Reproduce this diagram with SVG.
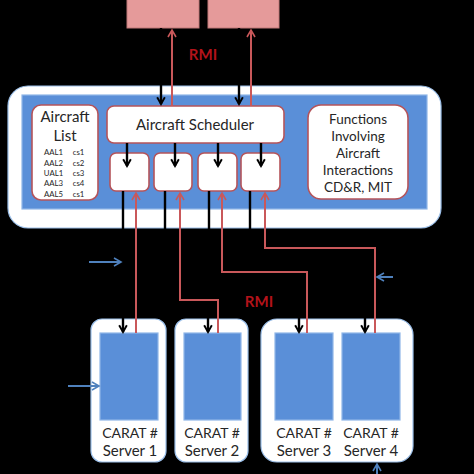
<svg xmlns="http://www.w3.org/2000/svg" width="474" height="474" viewBox="0 0 474 474">
<style>
text{font-family:Lato,"Liberation Sans",sans-serif;fill:#262626}
.pink{fill:#e59a9a;stroke:#c07878;stroke-width:1}
.box{fill:#fff;stroke:#b5545a;stroke-width:1.6}
.blue{fill:#5a8fd8;stroke:#8fb6e8;stroke-width:1.2}
.panel{fill:#fff;stroke:#9cc0ea;stroke-width:1.2}
.blk{stroke:#000;stroke-width:2.4;fill:none}
.red{stroke:#c9585a;stroke-width:2;fill:none}
.bl{stroke:#4f81bd;stroke-width:2;fill:none}
.rmi{font-weight:bold;fill:#b3131a;font-size:15px}
.t15{font-size:15px}
.cr{font-size:14px}
.t13{font-size:13.5px}
.sm{font-size:7.8px}
</style>
<defs>
<marker id="ak" viewBox="0 0 10 10" refX="8" refY="5" markerWidth="4" markerHeight="4" orient="auto" markerUnits="strokeWidth"><path d="M1,1 L8,5 L1,9" fill="none" stroke="#000" stroke-width="2"/></marker>
<marker id="ar" viewBox="0 0 10 10" refX="8" refY="5" markerWidth="5" markerHeight="5" orient="auto" markerUnits="strokeWidth"><path d="M1,1 L8,5 L1,9" fill="none" stroke="#c9585a" stroke-width="1.6"/></marker>
<marker id="ab" viewBox="0 0 10 10" refX="8" refY="5" markerWidth="5" markerHeight="5" orient="auto" markerUnits="strokeWidth"><path d="M1,1 L8,5 L1,9" fill="none" stroke="#4f81bd" stroke-width="1.6"/></marker>
</defs>
<rect width="474" height="474" fill="#000"/>

<g id="rmi-server-a"><rect class="pink" x="127" y="-2" width="72" height="30"/></g>
<g id="rmi-server-b"><rect class="pink" x="208" y="-2" width="71" height="30"/></g>

<g id="central-panel">
<rect class="panel" x="8" y="86" width="433" height="142" rx="20"/>
<rect class="blue" x="22" y="95" width="405" height="114"/>
</g>

<g id="aircraft-list">
<rect class="box" x="32" y="105" width="66" height="95" rx="9"/>
<text class="t15" x="65" y="122" text-anchor="middle">Aircraft</text>
<text class="t15" x="65" y="141" text-anchor="middle">List</text>
<g class="sm" text-anchor="middle">
<text x="53.5" y="155">AAL1</text><text x="78.5" y="155">cs1</text>
<text x="53.5" y="165.5">AAL2</text><text x="78.5" y="165.5">cs2</text>
<text x="53.5" y="176">UAL1</text><text x="78.5" y="176">cs3</text>
<text x="53.5" y="186.3">AAL3</text><text x="78.5" y="186.3">cs4</text>
<text x="53.5" y="196.5">AAL5</text><text x="78.5" y="196.5">cs1</text>
</g>
</g>

<g id="aircraft-scheduler">
<rect class="box" x="107" y="106" width="177" height="37" rx="7"/>
<text class="t15" x="195" y="130" text-anchor="middle">Aircraft Scheduler</text>
</g>

<g id="slot-1"><rect class="box" x="110" y="153" width="39" height="38" rx="6"/></g>
<g id="slot-2"><rect class="box" x="154" y="153" width="38" height="38" rx="6"/></g>
<g id="slot-3"><rect class="box" x="198" y="153" width="39" height="38" rx="6"/></g>
<g id="slot-4"><rect class="box" x="241" y="153" width="39" height="38" rx="6"/></g>

<g id="functions">
<rect class="box" x="308" y="105" width="100" height="94" rx="13"/>
<g class="t13" text-anchor="middle">
<text x="358" y="124">Functions</text>
<text x="358" y="141">Involving</text>
<text x="358" y="158">Aircraft</text>
<text x="358" y="175">Interactions</text>
<text x="358" y="192">CD&amp;R, MIT</text>
</g>
</g>

<g id="server-1">
<rect class="panel" x="91" y="319" width="75" height="143" rx="11"/>
<rect class="blue" x="100" y="333" width="58" height="87"/>
<text class="cr" x="130" y="438" text-anchor="middle">CARAT #</text>
<text class="t15" x="130" y="456" text-anchor="middle">Server 1</text>
</g>
<g id="server-2">
<rect class="panel" x="175" y="319" width="73" height="143" rx="11"/>
<rect class="blue" x="184" y="333" width="57" height="87"/>
<text class="cr" x="212" y="438" text-anchor="middle">CARAT #</text>
<text class="t15" x="212" y="456" text-anchor="middle">Server 2</text>
</g>
<g id="server-3-4">
<rect class="panel" x="261" y="319" width="152" height="143" rx="16"/>
<rect class="blue" x="275" y="333" width="58" height="87"/>
<rect class="blue" x="342" y="333" width="58" height="87"/>
<text class="cr" x="304" y="438" text-anchor="middle">CARAT #</text>
<text class="t15" x="304" y="456" text-anchor="middle">Server 3</text>
<text class="cr" x="371" y="438" text-anchor="middle">CARAT #</text>
<text class="t15" x="371" y="456" text-anchor="middle">Server 4</text>
</g>

<g id="connectors">
<path class="blk" d="M161,28 V104" marker-end="url(#ak)"/>
<path class="blk" d="M239,28 V104" marker-end="url(#ak)"/>
<path class="red" d="M172,106 V30" marker-end="url(#ar)"/>
<path class="red" d="M251,106 V30" marker-end="url(#ar)"/>
<path class="blk" d="M127,143 V166" marker-end="url(#ak)"/>
<path class="blk" d="M175,143 V166" marker-end="url(#ak)"/>
<path class="blk" d="M218,143 V166" marker-end="url(#ak)"/>
<path class="blk" d="M261,143 V166" marker-end="url(#ak)"/>
<path class="blk" d="M123,191 V332" marker-end="url(#ak)"/>
<path class="blk" d="M165,191 V310 H208 V332" marker-end="url(#ak)"/>
<path class="blk" d="M209,191 V285 H299 V332" marker-end="url(#ak)"/>
<path class="blk" d="M250,191 V262 H365 V332" marker-end="url(#ak)"/>
<path class="red" d="M136,333 V193" marker-end="url(#ar)"/>
<path class="red" d="M218,333 V300 H180 V193" marker-end="url(#ar)"/>
<path class="red" d="M307,333 V272 H222 V193" marker-end="url(#ar)"/>
<path class="red" d="M375,333 V248 H265 V193" marker-end="url(#ar)"/>
<text class="rmi" x="203" y="60" text-anchor="middle">RMI</text>
<text class="rmi" x="259" y="307" text-anchor="middle">RMI</text>
<path class="bl" d="M89,262 H121" marker-end="url(#ab)"/>
<path class="bl" d="M393,277 H377" marker-end="url(#ab)"/>
<path class="bl" d="M68,386 H99" marker-end="url(#ab)"/>
<path class="bl" d="M377,476 V464" marker-end="url(#ab)"/>
</g>
</svg>
